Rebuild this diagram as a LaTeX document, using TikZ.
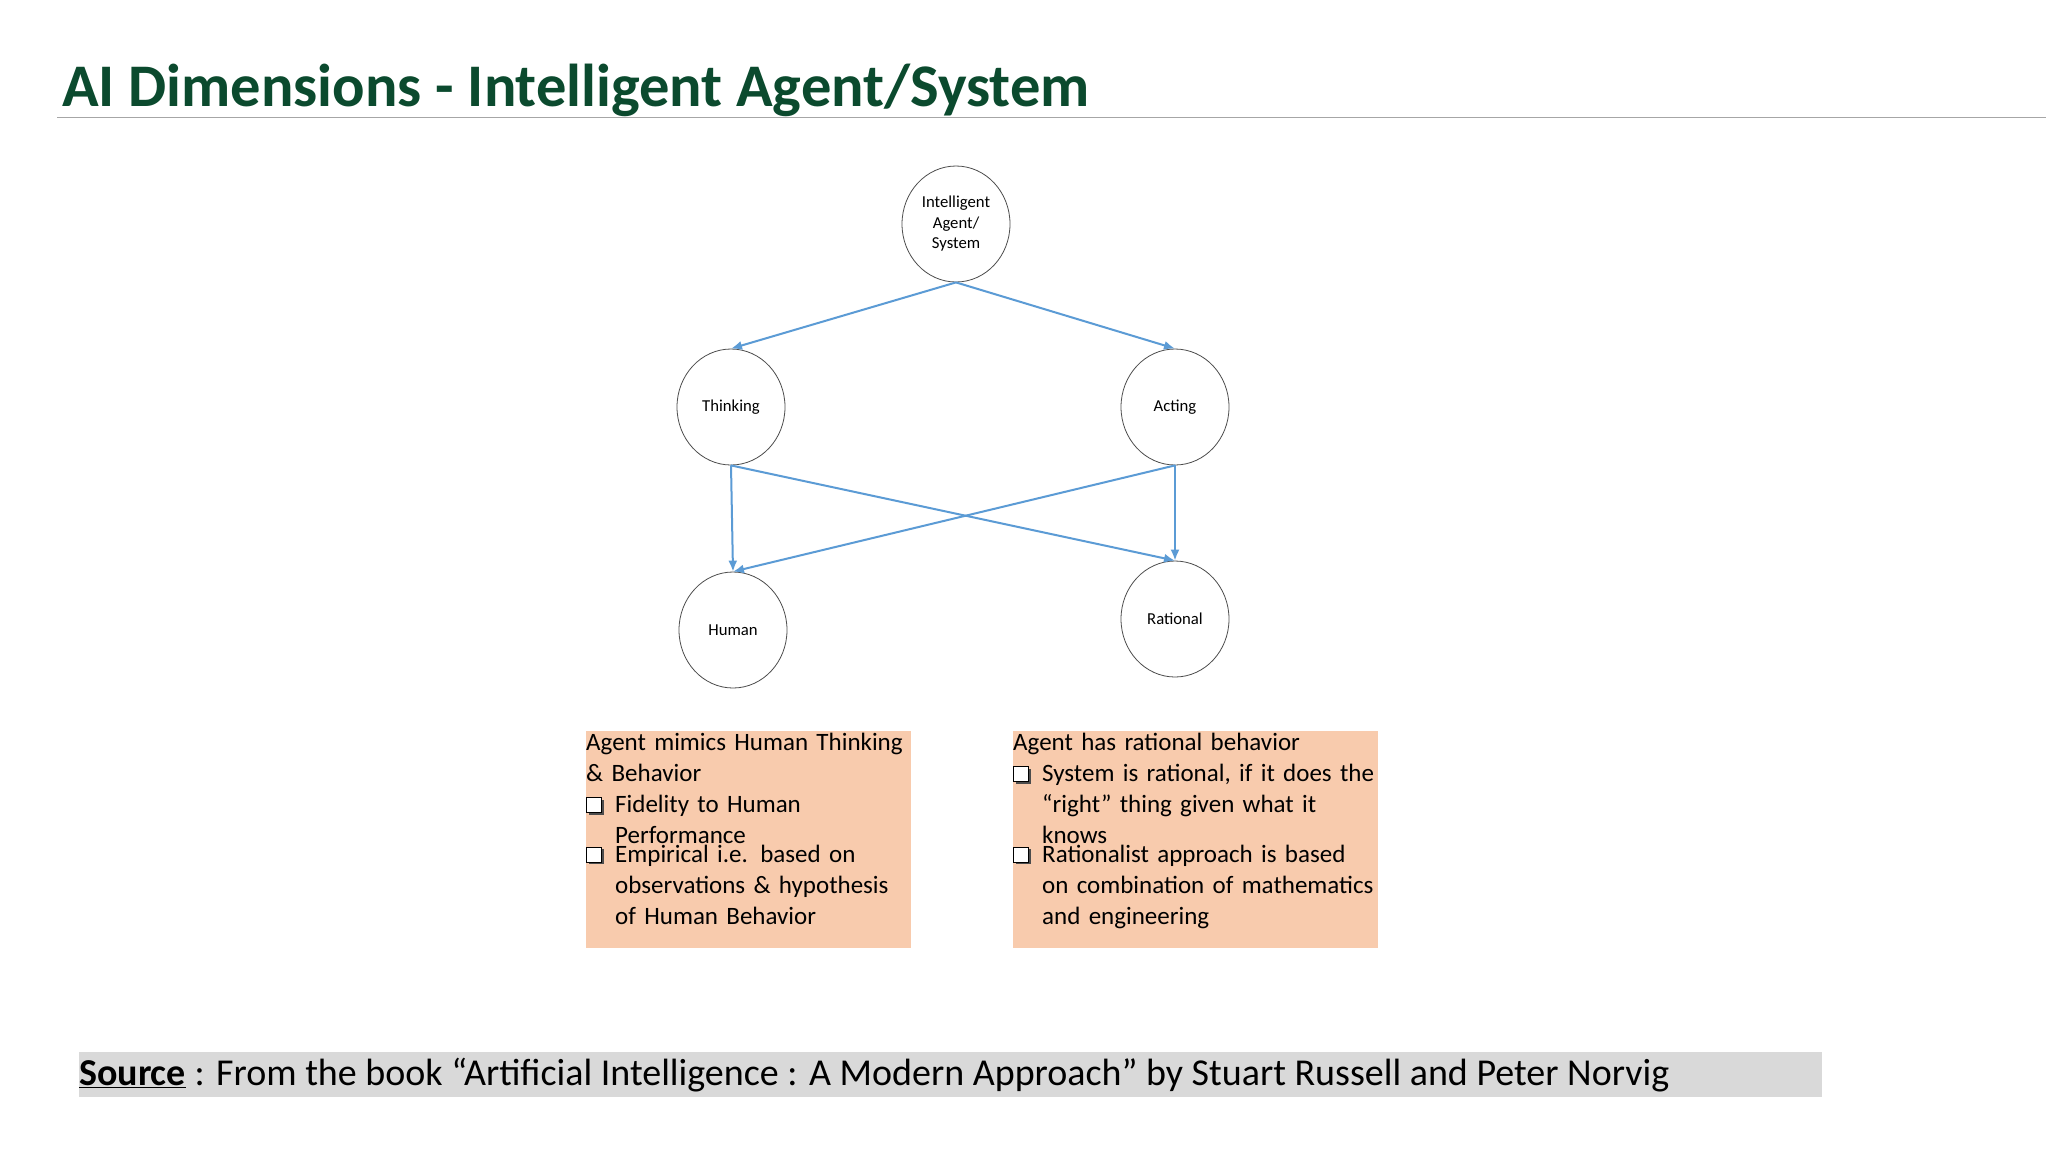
\documentclass[tikz,border=0pt]{standalone}
\usepackage{fontspec}
\setmainfont{Carlito}
\usetikzlibrary{shapes.geometric,arrows.meta}
\definecolor{arrblue}{RGB}{91,155,213}
\definecolor{peach}{RGB}{248,203,173}
\definecolor{titlegreen}{RGB}{11,74,46}
\definecolor{srcgray}{RGB}{217,217,217}
\begin{document}
\newcommand{\bx}{\tikz[baseline=0pt,x=1pt,y=1pt]{\fill[gray!60!black] (2,-2) rectangle (17,13);\draw[line width=1pt,fill=white] (0,0) rectangle (15,15);}}
\newcommand{\itm}[2]{\noindent\makebox[29pt][l]{\bx}\parbox[t]{#1}{\fontsize{25}{31}\selectfont #2}\par}
\begin{tikzpicture}[x=1pt,y=-1pt,
  ell/.style={ellipse,draw=black!70,line width=0.8pt,minimum width=108pt,minimum height=116pt,inner sep=0pt,font=\fontsize{16.7}{20.5}\selectfont,align=center},
  arr/.style={draw=arrblue,line width=2pt,-{Latex[length=11pt,width=9pt]}},
  txtbox/.style={fill=peach,anchor=north west,inner sep=0pt}]
\useasboundingbox (0,0) rectangle (2048,1152);
\fill[white] (0,0) rectangle (2048,1152);
\node[anchor=base west,font=\fontsize{60.5}{64}\selectfont\bfseries,text=titlegreen,inner sep=0pt] (title) at (62,106) {AI Dimensions - Intelligent Agent/System};
\draw[gray!70,line width=1pt] (57,117) coordinate (l1) -- (2046,117) coordinate (l2);

\node[ell] (ia) at (956,224) {Intelligent\\Agent/\\System};
\node[ell] (th) at (731,407) {Thinking};
\node[ell] (ac) at (1175,407) {Acting};
\node[ell] (hu) at (733,630) {Human};
\node[ell] (ra) at (1175,619) {Rational};

\draw[arr] (ia.south) -- (th.north);
\draw[arr] (ia.south) -- (ac.north);
\draw[arr] (th.south) -- (hu.north);
\draw[arr] (th.south) -- (ra.north);
\draw[arr] (ac.south) -- (hu.north);
\draw[arr] (ac.south) -- (ra.north);

\node[txtbox,minimum width=325pt,minimum height=217pt] (lb) at (586,731) {};
\node[anchor=north west,inner sep=0pt,font=\fontsize{25}{31}\selectfont,text width=330pt] (lt) at (586,733) {%
\noindent Agent mimics Human Thinking\\ \& Behavior\par
\itm{300pt}{Fidelity to Human\\ Performance}
\itm{300pt}{Empirical i.e. based on\\ observations \& hypothesis\\ of Human Behavior}};

\node[txtbox,minimum width=365pt,minimum height=217pt] (rb) at (1013,731) {};
\node[anchor=north west,inner sep=0pt,font=\fontsize{25}{31}\selectfont,text width=370pt] (rt) at (1013,733) {%
\noindent Agent has rational behavior\par
\itm{340pt}{System is rational, if it does the\\ “right” thing given what it\\ knows}
\itm{340pt}{Rationalist approach is based\\ on combination of mathematics\\ and engineering}};

\node[fill=srcgray,anchor=north west,inner sep=0pt,minimum width=1743pt,minimum height=45pt] (sb) at (79,1052) {};
\node[anchor=west,inner sep=0pt,font=\fontsize{38}{42}\selectfont] (st) at (79,1075) {\textbf{\underline{Source}} : From the book “Artificial Intelligence : A Modern Approach” by Stuart Russell and Peter Norvig};
\end{tikzpicture}
\end{document}
